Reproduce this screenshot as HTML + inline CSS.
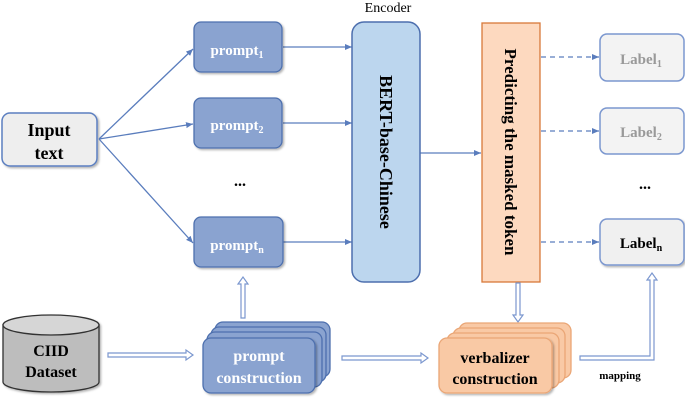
<!DOCTYPE html>
<html><head><meta charset="utf-8"><style>
body{margin:0;background:#fff}
svg{display:block}
text{font-family:"Liberation Serif","Times New Roman","DejaVu Serif",serif;font-weight:bold}
</style></head><body>
<svg width="685" height="400" viewBox="0 0 685 400" xmlns="http://www.w3.org/2000/svg">
<defs>
<marker id="a" markerWidth="8" markerHeight="8" refX="7" refY="4" orient="auto" markerUnits="userSpaceOnUse"><path d="M0,1 L7,4 L0,7 Z" fill="#5a7dbd"/></marker>
<filter id="sh" x="-10%" y="-10%" width="130%" height="130%"><feDropShadow dx="1.5" dy="1.5" stdDeviation="1" flood-opacity="0.3"/></filter>
</defs>
<text x="388" y="12" text-anchor="middle" style="font-weight:normal" font-size="14">Encoder</text>
<rect x="2" y="113" width="95" height="53" rx="8" fill="#eeeeee" stroke="#5b7fc0" stroke-width="1.5" filter="url(#sh)"/>
<text x="49" y="136" text-anchor="middle" font-size="18">Input</text>
<text x="49" y="159" text-anchor="middle" font-size="18">text</text>
<g stroke="#5a7dbd" stroke-width="1.3" fill="none" marker-end="url(#a)">
<line x1="99" y1="139" x2="193" y2="49"/>
<line x1="99" y1="139" x2="193" y2="124"/>
<line x1="99" y1="139" x2="193" y2="243"/>
<line x1="283" y1="47" x2="352" y2="47"/>
<line x1="283" y1="123" x2="352" y2="123"/>
<line x1="283" y1="242" x2="352" y2="242"/>
<line x1="420" y1="153" x2="481" y2="153"/>
</g>
<g fill="#8aa3d0" stroke="#4d6fae" stroke-width="1.3" filter="url(#sh)">
<rect x="194" y="22" width="88" height="50" rx="7"/>
<rect x="194" y="98" width="88" height="50" rx="7"/>
<rect x="194" y="217" width="89" height="50" rx="7"/>
</g>
<g fill="#fff" font-size="15" text-anchor="middle">
<text x="237" y="55">prompt<tspan font-size="10" dy="3">1</tspan></text>
<text x="237" y="130">prompt<tspan font-size="10" dy="3">2</tspan></text>
<text x="237" y="250">prompt<tspan font-size="10" dy="3">n</tspan></text>
</g>
<text x="240" y="186" text-anchor="middle" font-size="16">...</text>
<rect x="352" y="22" width="68" height="260" rx="12" fill="#bcd6ee" stroke="#4d6fae" stroke-width="1.5"/>
<text transform="translate(380,152) rotate(90)" text-anchor="middle" font-size="18">BERT-base-Chinese</text>
<rect x="482" y="23" width="58" height="259" fill="#fdd9bf" stroke="#d8793a" stroke-width="1.3"/>
<text transform="translate(505,152) rotate(90)" text-anchor="middle" font-size="17">Predicting the masked token</text>
<g stroke="#5a7dbd" stroke-width="1.3" stroke-dasharray="5,4" marker-end="url(#a)">
<line x1="541" y1="57" x2="599" y2="57"/>
<line x1="541" y1="131" x2="599" y2="131"/>
<line x1="541" y1="242" x2="599" y2="242"/>
</g>
<g stroke="#7b97cf" stroke-width="1.5">
<rect x="600" y="34" width="84" height="47" rx="7" fill="#f3f3f3"/>
<rect x="600" y="108" width="84" height="46" rx="7" fill="#f3f3f3"/>
<rect x="600" y="219" width="84" height="46" rx="7" fill="#f0f0f0" filter="url(#sh)"/>
</g>
<g font-size="15" text-anchor="middle">
<text x="641" y="64" fill="#999">Label<tspan font-size="10" dy="3">1</tspan></text>
<text x="641" y="137" fill="#999">Label<tspan font-size="10" dy="3">2</tspan></text>
<text x="641" y="248" fill="#000">Label<tspan font-size="10" dy="3">n</tspan></text>
</g>
<text x="645" y="189" text-anchor="middle" font-size="16">...</text>
<g filter="url(#sh)">
<path d="M3,325 L3,382 A48,10 0 0 0 99,382 L99,325 Z" fill="#bdbdbd" stroke="#333" stroke-width="1.3"/>
<ellipse cx="51" cy="325" rx="48" ry="10" fill="#d6d6d6" stroke="#333" stroke-width="1.3"/>
</g>
<text x="51" y="356" text-anchor="middle" font-size="16">CIID</text>
<text x="51" y="377" text-anchor="middle" font-size="16">Dataset</text>
<g fill="#fff" stroke="#7b97cf" stroke-width="1.2">
<path d="M108,353 L186,353 L186,350 L193,355 L186,360 L186,357 L108,357 Z"/>
<path d="M342,356 L421,356 L421,353 L428,358 L421,363 L421,360 L342,360 Z"/>
<path d="M241,318 L241,284 L238,284 L243,277 L248,284 L245,284 L245,318 Z"/>
<path d="M516,283 L516,315 L513,315 L518,322 L523,315 L520,315 L520,283 Z"/>
<path d="M580,356 L650,356 L650,280 L647,280 L652,273 L657,280 L654,280 L654,360 L580,360 Z"/>
</g>
<g fill="#8aa3d0" stroke="#4d6fae" stroke-width="1.3">
<rect x="215" y="322" width="115" height="55" rx="8"/>
<rect x="211" y="327" width="115" height="55" rx="8"/>
<rect x="207" y="332" width="115" height="55" rx="8"/>
<rect x="203" y="338" width="112" height="55" rx="8" filter="url(#sh)"/>
</g>
<text x="259" y="361" text-anchor="middle" fill="#fff" font-size="16">prompt</text>
<text x="259" y="383" text-anchor="middle" fill="#fff" font-size="16">construction</text>
<g fill="#f9c9a5" stroke="#eaa676" stroke-width="1.3">
<rect x="459" y="323" width="112" height="55" rx="8"/>
<rect x="453" y="328" width="112" height="55" rx="8"/>
<rect x="447" y="333" width="112" height="55" rx="8"/>
<rect x="439" y="338" width="113" height="55" rx="8" filter="url(#sh)"/>
</g>
<text x="495" y="363" text-anchor="middle" font-size="16">verbalizer</text>
<text x="495" y="384" text-anchor="middle" font-size="16">construction</text>
<text x="620" y="379" text-anchor="middle" font-size="11">mapping</text>
</svg>
</body></html>
